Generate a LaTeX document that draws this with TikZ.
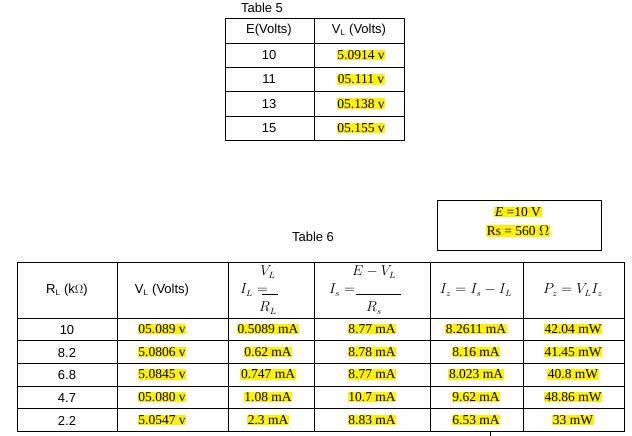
\documentclass[tikz,border=0pt]{standalone}
\usepackage{fontspec}
\setmainfont{Liberation Sans}
\newfontfamily\tnr{Liberation Serif}
\begin{document}
\begin{tikzpicture}[x=1pt,y=-1pt,
  lab/.style={font=\fontsize{13}{15}\selectfont},
  mth/.style={font=\fontsize{13.5}{15}\selectfont},
  val/.style={font=\tnr\fontsize{13.5}{15}\selectfont,fill=yellow,inner sep=0.6pt},
  grid/.style={line width=0.8pt}]
\useasboundingbox[fill=white] (0,0) rectangle (632,436);
% Table 5
\node[lab] (t5) at (262,8) {Table 5};
\draw[grid] (225,18) rectangle (404,140);
\draw[grid] (314,18) -- (314,140);
\foreach \y in {43,67,91,116} \draw[grid] (225,\y) -- (404,\y);
\node[lab] (h1) at (269,30) {E(Volts)};
\node[lab] (h2) at (359,30) {V\textsubscript{\fontsize{8}{9}\selectfont L} (Volts)};
\foreach \e/\v [count=\i] in {10/5.0914 v,11/05.111 v,13/05.138 v,15/05.155 v}{
  \pgfmathsetmacro\yy{43+(\i-0.5)*24.25}
  \node[lab] (e\i) at (269,\yy) {\e};
  \node[val] (v\i) at (361,\yy) {\v};
}
% Box
\draw[grid] (437,200) rectangle (601,250);
\node[val] (bE) at (518,212) {\textit{E} =10 V};
\node[val] (bR) at (518,231) {Rs = 560 $\Omega$};
\node[lab] (t6) at (313,237) {Table 6};
% Table 6
\draw[grid] (17,262) rectangle (624,431);
\foreach \x in {117,228,314,430,523} \draw[grid] (\x,262) -- (\x,431);
\foreach \y in {318,340,363,386,408} \draw[grid] (17,\y) -- (624,\y);
\node[lab] (c1) at (67,290) {R\textsubscript{\fontsize{8}{9}\selectfont L} (k$\Omega$)};
\node[lab] (c2) at (162,290) {V\textsubscript{\fontsize{8}{9}\selectfont L} (Volts)};
\node[mth] (c3a) at (254,290) {$I_L=$};
\node[mth] (c3b) at (268,272) {$V_L$};
\node[mth] (c3c) at (268,308) {$R_L$};
\draw (262,294) -- (278,294);
\node[mth] (c4a) at (342,290) {$I_s=$};
\node[mth] (c4b) at (374,272) {$E-V_L$};
\node[mth] (c4c) at (374,308) {$R_s$};
\draw (356,294) -- (401,294);
\node[mth] (c5) at (476,290) {$I_z=I_s-I_L$};
\node[mth] (c6) at (573,290) {$P_z=V_LI_z$};
\foreach \r/\a/\b/\c/\d/\f [count=\i] in {
 10/05.089 v/0.5089 mA/8.77 mA/8.2611 mA/42.04 mW,
 8.2/5.0806 v/0.62 mA/8.78 mA/8.16 mA/41.45 mW,
 6.8/5.0845 v/0.747 mA/8.77 mA/8.023 mA/40.8 mW,
 4.7/05.080 v/1.08 mA/10.7 mA/9.62 mA/48.86 mW,
 2.2/5.0547 v/2.3 mA/8.83 mA/6.53 mA/33 mW}{
  \pgfmathsetmacro\yy{318+(\i-0.5)*22.6}
  \node[lab] (r\i) at (67,\yy+1) {\r};
  \node[val] (a\i) at (162,\yy) {\a};
  \node[val] (b\i) at (268,\yy) {\b};
  \node[val] (c\i) at (372,\yy) {\c};
  \node[val] (d\i) at (476,\yy) {\d};
  \node[val] (f\i) at (573,\yy) {\f};
}
\draw (490,432) -- (490,436);
\end{tikzpicture}
\end{document}
